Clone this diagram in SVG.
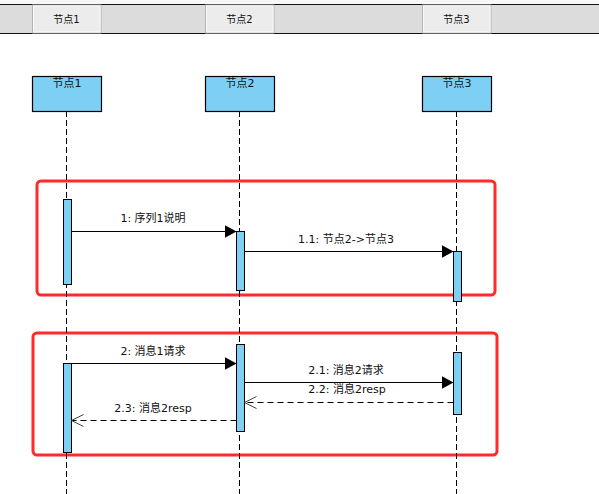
<svg xmlns="http://www.w3.org/2000/svg" width="599" height="494" viewBox="0 0 599 494">
<style>
text{font-family:"DejaVu Sans","Noto Sans CJK SC",sans-serif;fill:#111}
.tab{fill:#ececec;stroke:#b4b4b4;stroke-width:1}
.tabin{fill:none;stroke:#fafafa;stroke-width:1}
.tabt{font-size:10px;text-anchor:middle}
.head{fill:#7ecff4;stroke:#000;stroke-width:1.2}
.headt{font-size:11px;text-anchor:middle}
.life{stroke:#000;stroke-width:1;stroke-dasharray:6 3;fill:none}
.act{fill:#7ecff4;stroke:#000;stroke-width:1}
.frame{fill:none;stroke:#ff2a2a;stroke-width:3}
.msg{stroke:#000;stroke-width:1;fill:none}
.ret{stroke:#000;stroke-width:1;fill:none;stroke-dasharray:6 4}
.lbl{font-size:11px;text-anchor:middle}
</style>
<defs>
<marker id="solid" markerWidth="14" markerHeight="14" refX="12" refY="6.5" orient="auto" markerUnits="userSpaceOnUse">
<path d="M0,0 L12,6.5 L0,13 Z" fill="#000"/>
</marker>
<marker id="open" markerWidth="14" markerHeight="14" refX="12" refY="7" orient="auto" markerUnits="userSpaceOnUse">
<path d="M0,1 L12,7 L0,13" fill="none" stroke="#444" stroke-width="1"/>
</marker>
</defs>
<rect width="599" height="494" fill="#fff"/>
<g id="tabbar">
<rect x="0" y="0" width="599" height="4" fill="#f7f7f7"/>
<rect x="0" y="4" width="599" height="29" fill="#dcdcdc"/>
<line x1="0" y1="4.5" x2="599" y2="4.5" stroke="#111" stroke-width="1"/>
<line x1="0" y1="33.5" x2="599" y2="33.5" stroke="#111" stroke-width="1.2"/>
<rect class="tab" x="32.5" y="5" width="68.5" height="28"/>
<rect class="tabin" x="33.5" y="6" width="66.5" height="26"/>
<text class="tabt" x="66.5" y="23">节点1</text>
<rect class="tab" x="205.5" y="5" width="68.5" height="28"/>
<rect class="tabin" x="206.5" y="6" width="66.5" height="26"/>
<text class="tabt" x="239.5" y="23">节点2</text>
<rect class="tab" x="422.5" y="5" width="68.5" height="28"/>
<rect class="tabin" x="423.5" y="6" width="66.5" height="26"/>
<text class="tabt" x="456.5" y="23">节点3</text>
</g>
<g id="frames">
<rect class="frame" x="37" y="181" width="458" height="114" rx="4"/>
<rect class="frame" x="33" y="333" width="464" height="122" rx="4"/>
</g>
<g id="node1">
<line class="life" x1="66.5" y1="111" x2="66.5" y2="494"/>
<rect class="head" x="32.5" y="76.5" width="69" height="35"/>
<text class="headt" x="67" y="87">节点1</text>
<rect class="act" x="63.5" y="199.5" width="8" height="85"/>
<rect class="act" x="63.5" y="363.5" width="8" height="89"/>
</g>
<g id="node2">
<line class="life" x1="239.5" y1="111" x2="239.5" y2="494"/>
<rect class="head" x="205.5" y="76.5" width="69" height="35"/>
<text class="headt" x="240" y="87">节点2</text>
<rect class="act" x="236.5" y="231.5" width="8" height="59"/>
<rect class="act" x="236.5" y="344.5" width="8" height="87"/>
</g>
<g id="node3">
<line class="life" x1="456.5" y1="111" x2="456.5" y2="494"/>
<rect class="head" x="422.5" y="76.5" width="69" height="35"/>
<text class="headt" x="457" y="87">节点3</text>
<rect class="act" x="453.5" y="251.5" width="8" height="50"/>
<rect class="act" x="453.5" y="352.5" width="8" height="62"/>
</g>
<g id="connectors">
<line class="msg" x1="71.5" y1="231.5" x2="236.5" y2="231.5" marker-end="url(#solid)"/>
<text class="lbl" x="153" y="222">1: 序列1说明</text>
<line class="msg" x1="244.5" y1="251.5" x2="453.5" y2="251.5" marker-end="url(#solid)"/>
<text class="lbl" x="346" y="243">1.1: 节点2-&gt;节点3</text>
<line class="msg" x1="71.5" y1="363.5" x2="236.5" y2="363.5" marker-end="url(#solid)"/>
<text class="lbl" x="153" y="355">2: 消息1请求</text>
<line class="msg" x1="244.5" y1="382.5" x2="453.5" y2="382.5" marker-end="url(#solid)"/>
<text class="lbl" x="346" y="374">2.1: 消息2请求</text>
<line class="ret" x1="453.5" y1="402.5" x2="244.5" y2="402.5" marker-end="url(#open)"/>
<text class="lbl" x="347" y="393">2.2: 消息2resp</text>
<line class="ret" x1="236.5" y1="420.5" x2="71.5" y2="420.5" marker-end="url(#open)"/>
<text class="lbl" x="153" y="412">2.3: 消息2resp</text>
</g>
</svg>
